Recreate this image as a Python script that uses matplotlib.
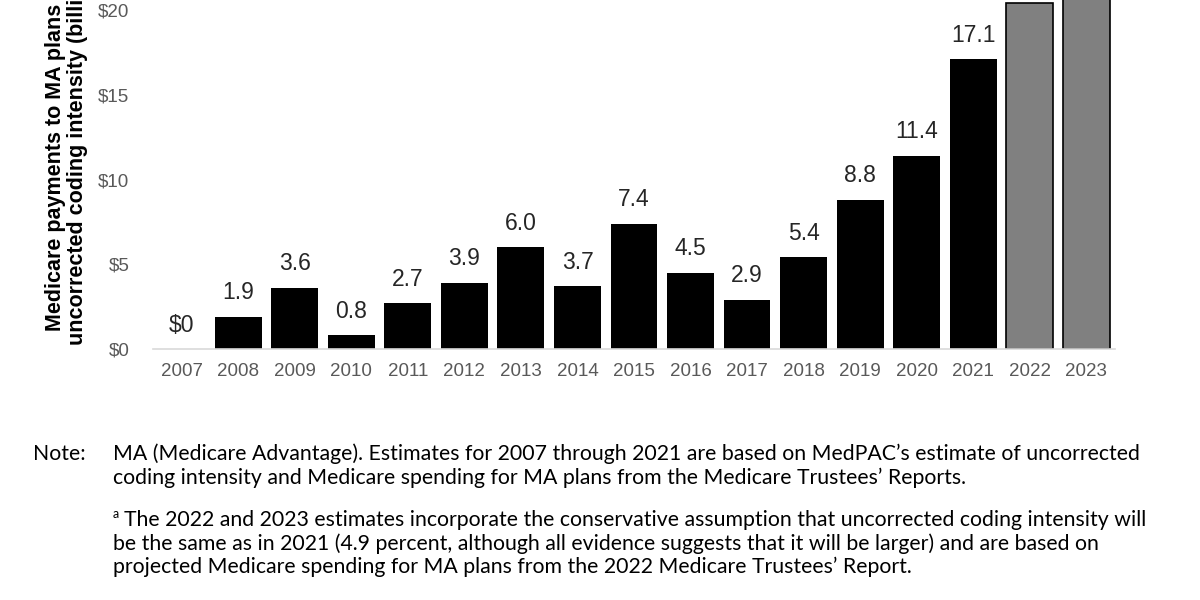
import numpy as np
import matplotlib.pyplot as plt

years = ["2007", "2008", "2009", "2010", "2011", "2012", "2013", "2014", "2015",
         "2016", "2017", "2018", "2019", "2020", "2021", "2022", "2023"]
values = [0, 1.9, 3.6, 0.8, 2.7, 3.9, 6.0, 3.7, 7.4, 4.5, 2.9, 5.4, 8.8, 11.4, 17.1, 20.4, 23.3]
labels = ["$0", "1.9", "3.6", "0.8", "2.7", "3.9", "6.0", "3.7", "7.4", "4.5", "2.9",
          "5.4", "8.8", "11.4", "17.1", "20.4", "23.3"]
projected = ["2022", "2023"]
yticks = [0, 5, 10, 15, 20, 25]

plt.rcParams['font.family'] = ['Liberation Sans', 'DejaVu Sans']

fig = plt.figure(figsize=(12, 6), dpi=100)
# axes top runs past the figure edge, like the cropped original
y0 = (600 - 349) / 600
unit = (349 - 10) / 20 / 600
ymax = 26
ax = fig.add_axes([153 / 1200, y0, (1115 - 153) / 1200, unit * ymax])

x = np.arange(len(years))
is_proj = [y in projected for y in years]
colors = ['#808080' if p else 'black' for p in is_proj]
lws = [1.2 if p else 0 for p in is_proj]
ax.bar(x, values, width=0.83, color=colors, edgecolor='black', linewidth=lws)
for xi, v, lab, p in zip(x, values, labels, is_proj):
    if p:
        continue  # these labels sit above the cropped top edge
    ax.annotate(lab, (xi, v), xytext=(0, 9), textcoords='offset points',
                ha='center', va='bottom', fontsize=16.5, color='#262626')

ax.set_xlim(-0.51, len(years) - 0.49)
ax.set_ylim(0, ymax)
ax.set_xticks(x)
ax.set_xticklabels(years, fontsize=13.5, color='#595959')
ax.set_yticks(yticks)
ax.set_yticklabels(["$%d" % t for t in yticks], fontsize=13.5, color='#595959')
ax.tick_params(axis='both', length=0)
ax.tick_params(axis='x', pad=10)
ax.tick_params(axis='y', pad=17)
for s in ['top', 'right', 'left']:
    ax.spines[s].set_visible(False)
ax.spines['bottom'].set_color('#d9d9d9')
ax.spines['bottom'].set_linewidth(1.2)

# y label, two lines, bottom anchored
fig.text(55 / 1200, (600 - 331) / 600, "Medicare payments to MA plans from",
         rotation=90, rotation_mode='anchor', ha='left', va='center',
         fontsize=15.5, fontweight='bold', color='black')
fig.text(78 / 1200, (600 - 345) / 600, "uncorrected coding intensity (billions)",
         rotation=90, rotation_mode='anchor', ha='left', va='center',
         fontsize=15.5, fontweight='bold', color='black')

# notes
nf = 'Lato'
nsize = 15.3
fig.text(33 / 1200, (600 - 454) / 600, "Note:", family=nf, fontsize=nsize,
         va='center', color='black')
note1 = ["MA (Medicare Advantage). Estimates for 2007 through 2021 are based on MedPAC\u2019s estimate of uncorrected",
         "coding intensity and Medicare spending for MA plans from the Medicare Trustees\u2019 Reports."]
note2 = ["The 2022 and 2023 estimates incorporate the conservative assumption that uncorrected coding intensity will",
         "be the same as in 2021 (4.9 percent, although all evidence suggests that it will be larger) and are based on",
         "projected Medicare spending for MA plans from the 2022 Medicare Trustees\u2019 Report."]
for i, line in enumerate(note1):
    fig.text(113 / 1200, (600 - 454 - 23.5 * i) / 600, line, family=nf,
             fontsize=nsize, va='center', color='black')
fig.text(113 / 1200, (600 - 514) / 600, "a", family=nf, fontsize=9, va='center', color='black')
for i, line in enumerate(note2):
    fig.text(113 / 1200 if i else 124 / 1200, (600 - 520 - 23.5 * i) / 600, line, family=nf,
             fontsize=nsize, va='center', color='black')

fig.savefig("out.png", dpi=100)
